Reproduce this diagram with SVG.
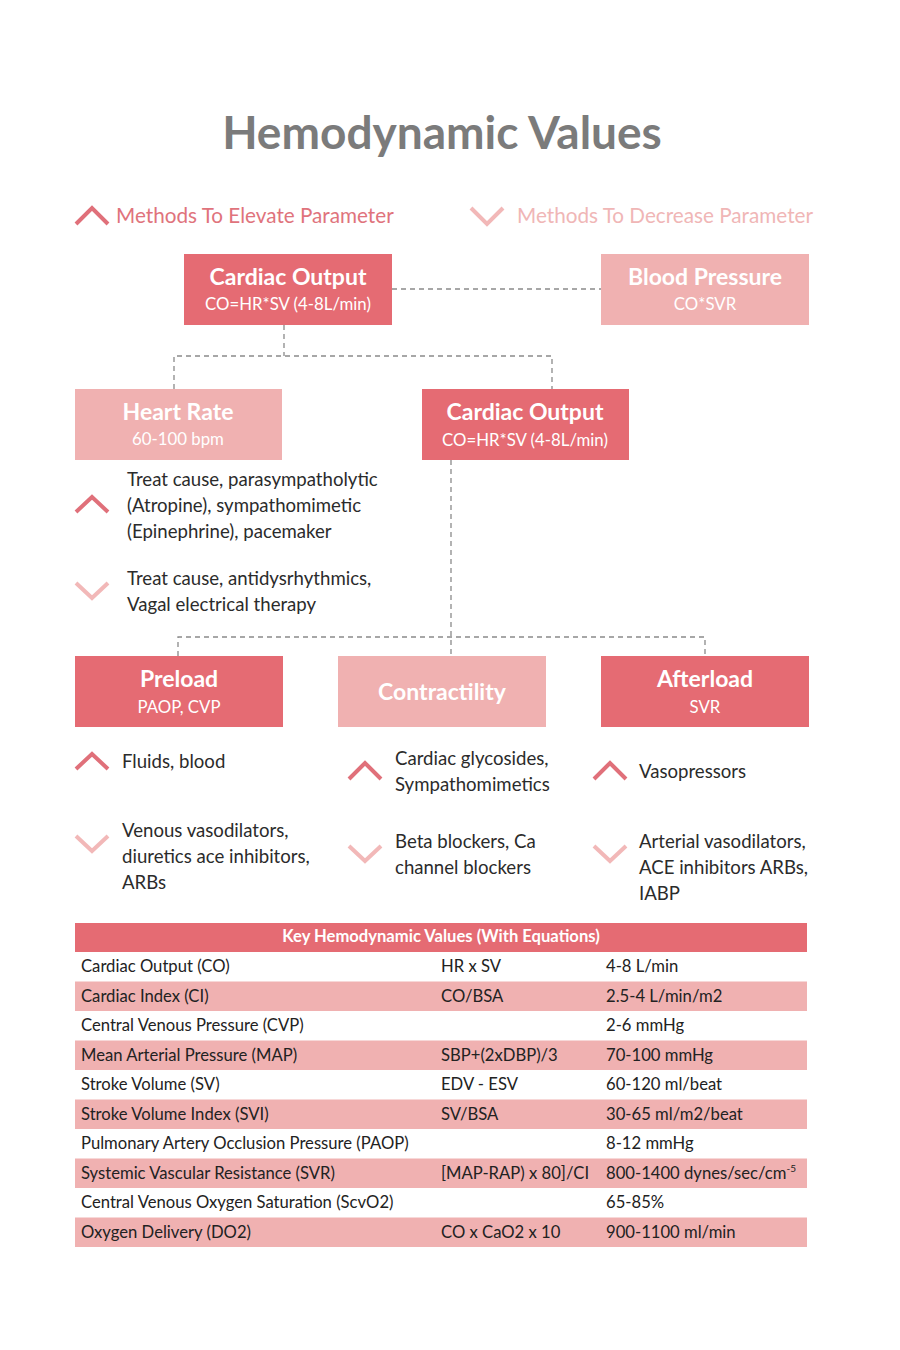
<svg xmlns="http://www.w3.org/2000/svg" width="900" height="1350" viewBox="0 0 900 1350">
<style>
text{font-family:Lato,"Noto Sans","Liberation Sans",sans-serif}
.title{font-size:46px;font-weight:700;fill:#7b7b7b}
.leg1{font-size:20.7px;fill:#e0737c}
.leg2{font-size:20.7px;fill:#f0b6b6}
.dark{fill:#e56b73}
.light{fill:#f0b1b1}
.bt{font-size:23px;font-weight:700;fill:#fff}
.bs{font-size:16.8px;fill:#fff}
.body{font-size:18.6px;fill:#2b2b2b}
.up{fill:none;stroke:#e0707a;stroke-width:4}
.dn{fill:none;stroke:#f2b8b8;stroke-width:4}
.conn{fill:none;stroke:#8a8a8a;stroke-width:1.3;stroke-dasharray:5 4}
.th{font-size:16.6px;font-weight:700;fill:#fff}
.td{font-size:16.65px;fill:#222}
</style>
<rect width="900" height="1350" fill="#fff"/>
<text class="title" x="442" y="149" text-anchor="middle">Hemodynamic Values</text>
<g id="legend">
<polyline class="up" points="76,224 92,208 108,224"/>
<text class="leg1" x="116" y="223">Methods To Elevate Parameter</text>
<polyline class="dn" points="471,208 487,224 503,208"/>
<text class="leg2" x="517" y="223">Methods To Decrease Parameter</text>
</g>
<g id="connectors">
<path class="conn" d="M392,289 H601"/>
<path class="conn" d="M284,325 V356 M174,389 V356 H552 V389"/>
<path class="conn" d="M451,460 V656 M178,656 V637 H705 V656"/>
</g>
<g id="co-top">
<rect class="dark" x="184" y="254" width="208" height="71"/>
<text class="bt" x="288" y="285" text-anchor="middle">Cardiac Output</text>
<text class="bs" x="288" y="310" text-anchor="middle">CO=HR*SV (4-8L/min)</text>
</g>
<g id="bp">
<rect class="light" x="601" y="254" width="208" height="71"/>
<text class="bt" x="705" y="285" text-anchor="middle">Blood Pressure</text>
<text class="bs" x="705" y="310" text-anchor="middle">CO*SVR</text>
</g>
<g id="hr">
<rect class="light" x="75" y="389" width="207" height="71"/>
<text class="bt" x="178" y="420" text-anchor="middle">Heart Rate</text>
<text class="bs" x="178" y="445" text-anchor="middle">60-100 bpm</text>
</g>
<g id="co2">
<rect class="dark" x="422" y="389" width="207" height="71"/>
<text class="bt" x="525" y="420" text-anchor="middle">Cardiac Output</text>
<text class="bs" x="525" y="446" text-anchor="middle">CO=HR*SV (4-8L/min)</text>
</g>
<g id="hr-methods">
<polyline class="up" points="76,512 92,497 108,512"/>
<text class="body" x="127" y="486">Treat cause, parasympatholytic</text>
<text class="body" x="127" y="512">(Atropine), sympathomimetic</text>
<text class="body" x="127" y="538">(Epinephrine), pacemaker</text>
<polyline class="dn" points="76,583 92,598 108,583"/>
<text class="body" x="127" y="585">Treat cause, antidysrhythmics,</text>
<text class="body" x="127" y="611">Vagal electrical therapy</text>
</g>
<g id="preload">
<rect class="dark" x="75" y="656" width="208" height="71"/>
<text class="bt" x="179" y="687" text-anchor="middle">Preload</text>
<text class="bs" x="179" y="713" text-anchor="middle">PAOP, CVP</text>
</g>
<g id="contractility">
<rect class="light" x="338" y="656" width="208" height="71"/>
<text class="bt" x="442" y="700" text-anchor="middle">Contractility</text>
</g>
<g id="afterload">
<rect class="dark" x="601" y="656" width="208" height="71"/>
<text class="bt" x="705" y="687" text-anchor="middle">Afterload</text>
<text class="bs" x="705" y="713" text-anchor="middle">SVR</text>
</g>
<g id="preload-methods">
<polyline class="up" points="76,769 92,754 108,769"/>
<text class="body" x="122" y="768">Fluids, blood</text>
<polyline class="dn" points="76,836 92,851 108,836"/>
<text class="body" x="122" y="837">Venous vasodilators,</text>
<text class="body" x="122" y="863">diuretics ace inhibitors,</text>
<text class="body" x="122" y="889">ARBs</text>
</g>
<g id="contractility-methods">
<polyline class="up" points="349,779 365,763 381,779"/>
<text class="body" x="395" y="765">Cardiac glycosides,</text>
<text class="body" x="395" y="791">Sympathomimetics</text>
<polyline class="dn" points="349,846 365,861 381,846"/>
<text class="body" x="395" y="848">Beta blockers, Ca</text>
<text class="body" x="395" y="874">channel blockers</text>
</g>
<g id="afterload-methods">
<polyline class="up" points="594,779 610,763 626,779"/>
<text class="body" x="639" y="778">Vasopressors</text>
<polyline class="dn" points="594,846 610,861 626,846"/>
<text class="body" x="639" y="848">Arterial vasodilators,</text>
<text class="body" x="639" y="874">ACE inhibitors ARBs,</text>
<text class="body" x="639" y="900">IABP</text>
</g>
<g id="table">
<rect class="dark" x="75" y="923" width="732" height="29"/>
<text class="th" x="441" y="942" text-anchor="middle">Key Hemodynamic Values (With Equations)</text>
<rect class="light" x="75" y="981.5" width="732" height="29.5"/>
<rect class="light" x="75" y="1040.5" width="732" height="29.5"/>
<rect class="light" x="75" y="1099.5" width="732" height="29.5"/>
<rect class="light" x="75" y="1158.5" width="732" height="29.5"/>
<rect class="light" x="75" y="1217.5" width="732" height="29.5"/>
<text class="td" x="81" y="972">Cardiac Output (CO)</text>
<text class="td" x="441" y="972">HR x SV</text>
<text class="td" x="606" y="972">4-8 L/min</text>
<text class="td" x="81" y="1001.5">Cardiac Index (CI)</text>
<text class="td" x="441" y="1001.5">CO/BSA</text>
<text class="td" x="606" y="1001.5">2.5-4 L/min/m2</text>
<text class="td" x="81" y="1031">Central Venous Pressure (CVP)</text>
<text class="td" x="606" y="1031">2-6 mmHg</text>
<text class="td" x="81" y="1060.5">Mean Arterial Pressure (MAP)</text>
<text class="td" x="441" y="1060.5">SBP+(2xDBP)/3</text>
<text class="td" x="606" y="1060.5">70-100 mmHg</text>
<text class="td" x="81" y="1090">Stroke Volume (SV)</text>
<text class="td" x="441" y="1090">EDV - ESV</text>
<text class="td" x="606" y="1090">60-120 ml/beat</text>
<text class="td" x="81" y="1119.5">Stroke Volume Index (SVI)</text>
<text class="td" x="441" y="1119.5">SV/BSA</text>
<text class="td" x="606" y="1119.5">30-65 ml/m2/beat</text>
<text class="td" x="81" y="1149">Pulmonary Artery Occlusion Pressure (PAOP)</text>
<text class="td" x="606" y="1149">8-12 mmHg</text>
<text class="td" x="81" y="1178.5">Systemic Vascular Resistance (SVR)</text>
<text class="td" x="441" y="1178.5">[MAP-RAP) x 80]/CI</text>
<text class="td" x="606" y="1178.5">800-1400 dynes/sec/cm<tspan font-size="10" dy="-7">-5</tspan></text>
<text class="td" x="81" y="1208">Central Venous Oxygen Saturation (ScvO2)</text>
<text class="td" x="606" y="1208">65-85%</text>
<text class="td" x="81" y="1237.5">Oxygen Delivery (DO2)</text>
<text class="td" x="441" y="1237.5">CO x CaO2 x 10</text>
<text class="td" x="606" y="1237.5">900-1100 ml/min</text>
</g>
</svg>
